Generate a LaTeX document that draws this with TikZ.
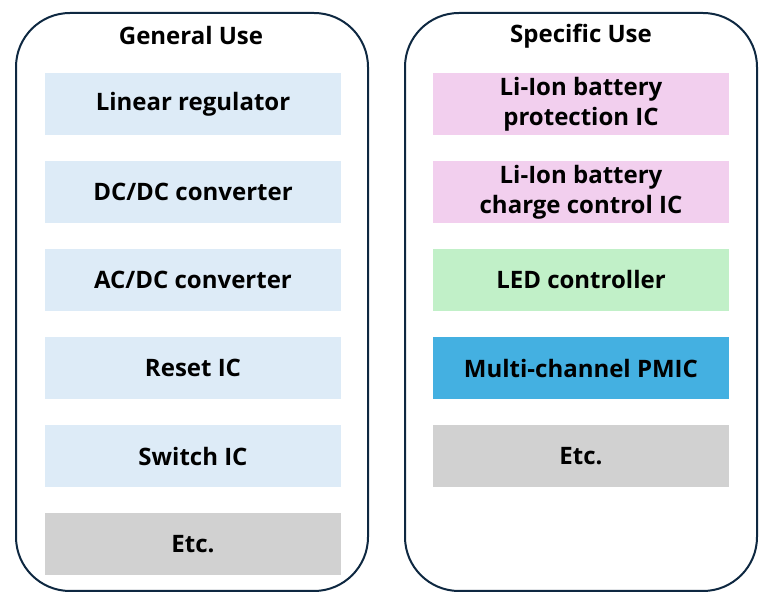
\documentclass[tikz,border=0pt]{standalone}
\usepackage{fontspec}
\setmainfont{Open Sans}[BoldFont={Open Sans Bold}]
\usetikzlibrary{positioning}
\definecolor{frame}{RGB}{14,40,65}
\definecolor{genblue}{RGB}{221,235,247}
\definecolor{batpink}{RGB}{242,207,238}
\definecolor{ledgreen}{RGB}{193,240,200}
\definecolor{pmicblue}{RGB}{68,176,225}
\definecolor{etcgray}{RGB}{209,209,209}

\begin{document}
\begin{tikzpicture}[x=1pt, y=1pt,
  font=\bfseries\fontsize{24}{30}\selectfont, node distance=26pt,
  grp/.style={draw=frame, line width=2pt, rounded corners=54pt},
  item/.style={minimum width=296pt, minimum height=61.7pt, inner sep=0pt, align=center},
  gen/.style={item, fill=genblue}, bat/.style={item, fill=batpink},
  led/.style={item, fill=ledgreen}, pmic/.style={item, fill=pmicblue}, etc/.style={item, fill=etcgray}]
  \useasboundingbox (0,0) rectangle (776,602);
  \draw[grp] (16,11) rectangle (368,589);
  \draw[grp] (405,11) rectangle (757,589);
  \node (gentitle) at (191,566) {General Use};
  \node (spectitle) at (581,566) {Specific Use};
  % general use column
  \node[gen] (linreg) at (193,498.2) {Linear regulator};
  \node[gen, below=of linreg] (dcdc) {DC/DC converter};
  \node[gen, below=of dcdc] (acdc) {AC/DC converter};
  \node[gen, below=of acdc] (reset) {Reset IC};
  \node[gen, below=of reset] (switch) {Switch IC};
  \node[etc, below=of switch] (genetc) {Etc.};
  % specific use column
  \node[bat] (batprot) at (581,498.2) {Li-Ion battery\\protection IC};
  \node[bat, below=of batprot] (batchg) {Li-Ion battery\\charge control IC};
  \node[led, below=of batchg] (ledctl) {LED controller};
  \node[pmic, below=of ledctl] (pmic) {Multi-channel PMIC};
  \node[etc, below=of pmic] (specetc) {Etc.};
\end{tikzpicture}
\end{document}
